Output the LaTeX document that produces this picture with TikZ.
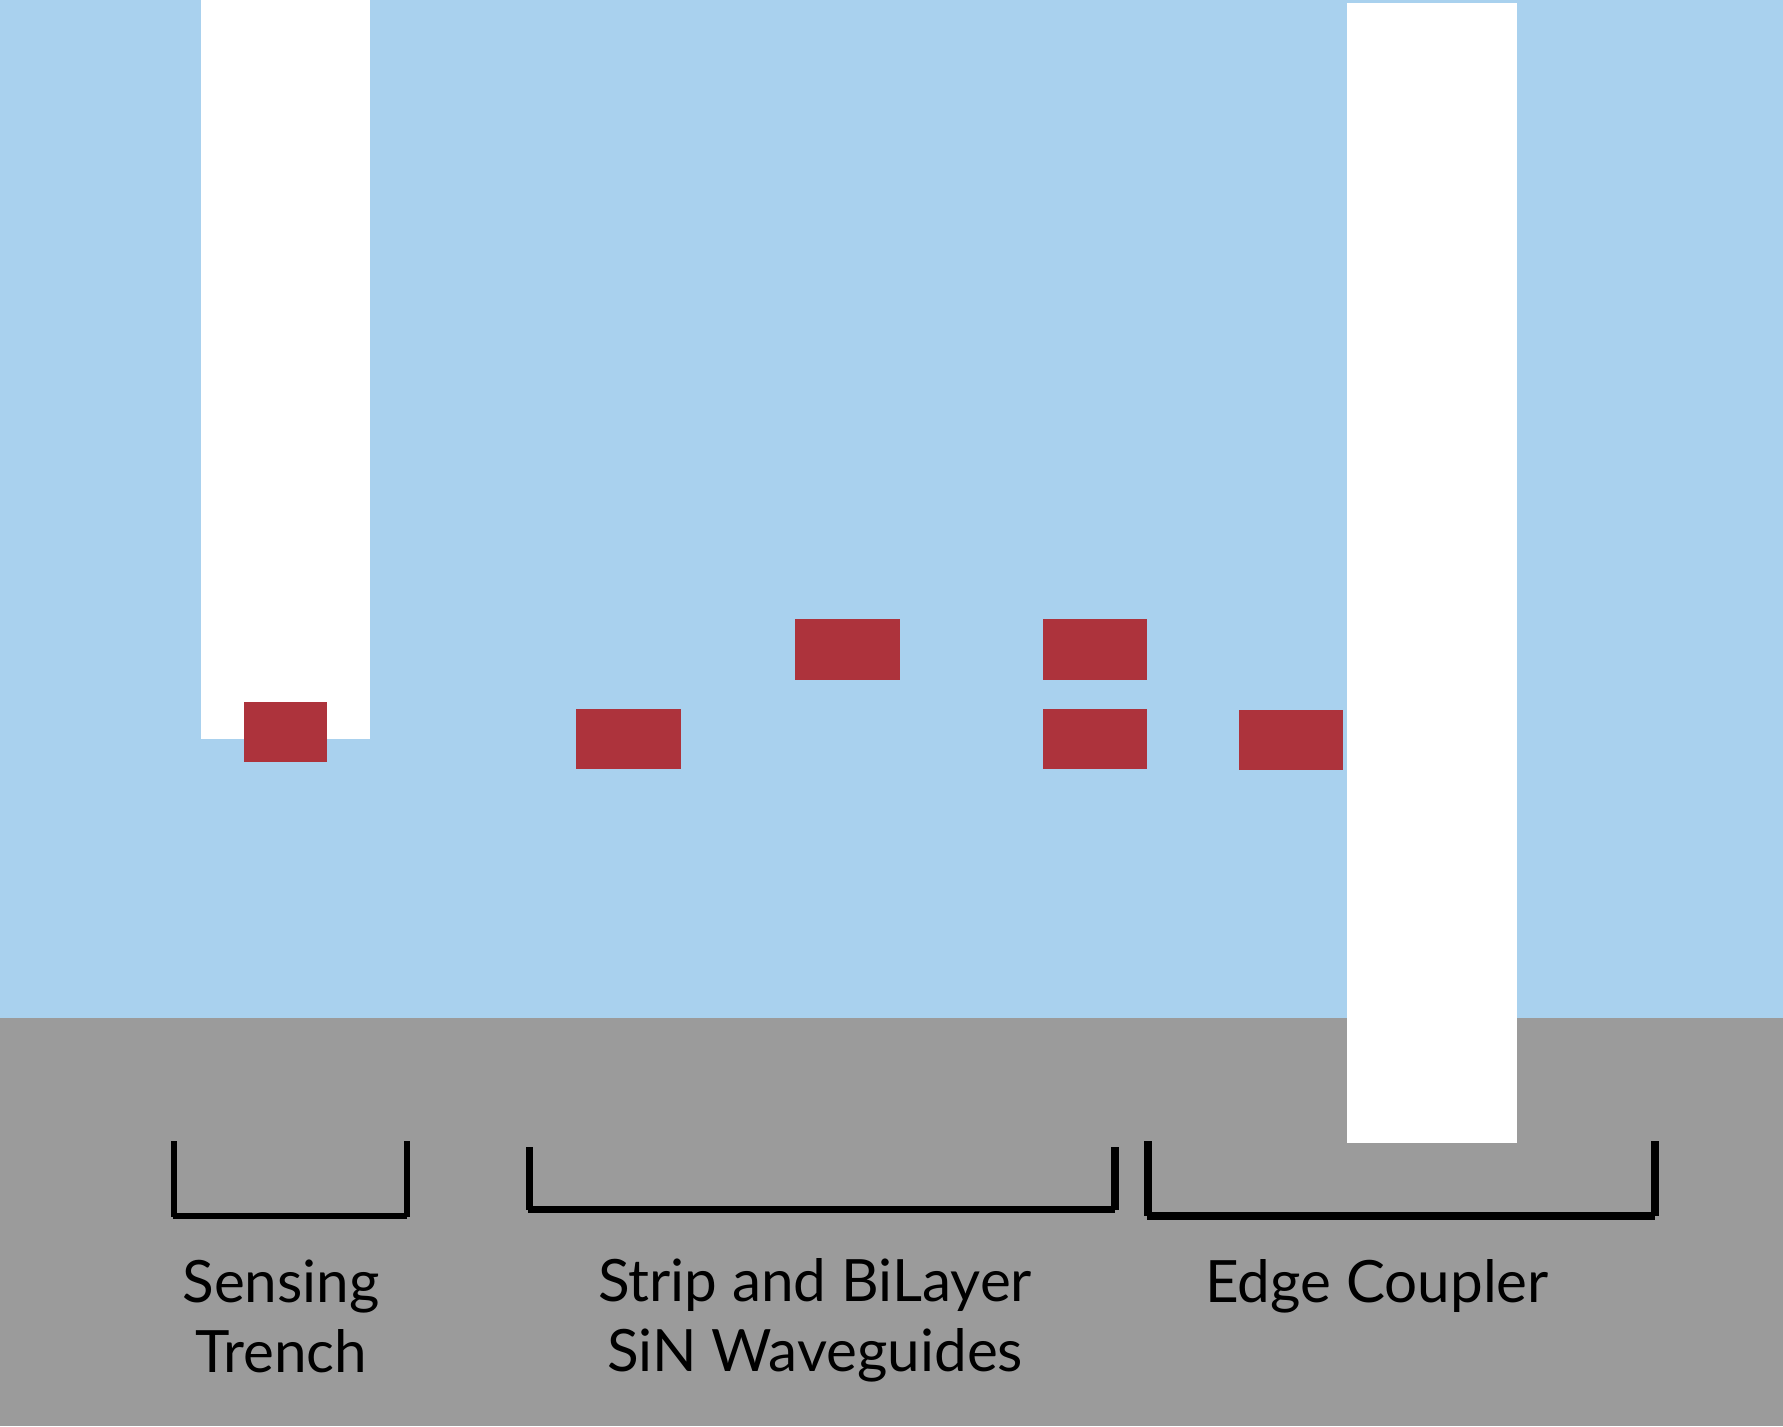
\documentclass[tikz,border=0pt]{standalone}
\usepackage{fontspec}
\setmainfont{Lato}
\definecolor{oxide}{HTML}{A9D1EE}
\definecolor{substrate}{HTML}{9B9B9B}
\definecolor{core}{HTML}{AD333C}
\begin{document}
\begin{tikzpicture}[x=0.01cm,y=-0.01cm,
    wg/.style={fill=core},
    gap/.style={fill=white},
    brack/.style={draw=black,line cap=butt},
    lab/.style={align=center,font=\fontsize{16.6pt}{19.9pt}\selectfont,inner sep=0pt,text=black}]
                      \useasboundingbox (0,0) rectangle (1783,1426);
                      \fill[oxide] (0,0) rectangle (1783,1018);
                      \fill[substrate] (0,1018) rectangle (1783,1426);
                      \fill[gap] (200.5,0) rectangle (370,739);
                      \fill[gap] (1347,3) rectangle (1517,1142.5);
                      \fill[wg] (243.5,701.7) rectangle (327,762);
                      \fill[wg] (576.3,708.5) rectangle (681,769);
                      \fill[wg] (795,619) rectangle (899.5,679.5);
                      \fill[wg] (1042.5,619) rectangle (1147,679.5);
                      \fill[wg] (1042.5,708.5) rectangle (1147,769);
                      \fill[wg] (1239,709.5) rectangle (1343,770);
                      \draw[brack,line width=1.7pt] (173.7,1141) --(173.7,1217.3) (173,1216) --(406.7,1216) (406.7,1217.3) --(406.7,1141);
                      \draw[brack,line width=2.05pt] (529.5,1147) --(529.5,1210) (528,1209.8) --(1115,1209.8) (1115,1210) --(1115,1147);
                      \draw[brack,line width=2.27pt] (1148.3,1141) --(1148.3,1216.3) (1146.7,1215.7) --(1655.3,1215.7) (1655.3,1216.3) --(1655.3,1141);
                      \node[lab] (sensing) at (281,1316) {Sensing\\Trench};
                      \node[lab] (strip) at (815,1320.5) {Strip and BiLayer\\SiN Waveguides};
                      \node[lab,anchor=north] (edge) at (1377,1258.5) {Edge Coupler};
                  \end{tikzpicture}
\end{document}
